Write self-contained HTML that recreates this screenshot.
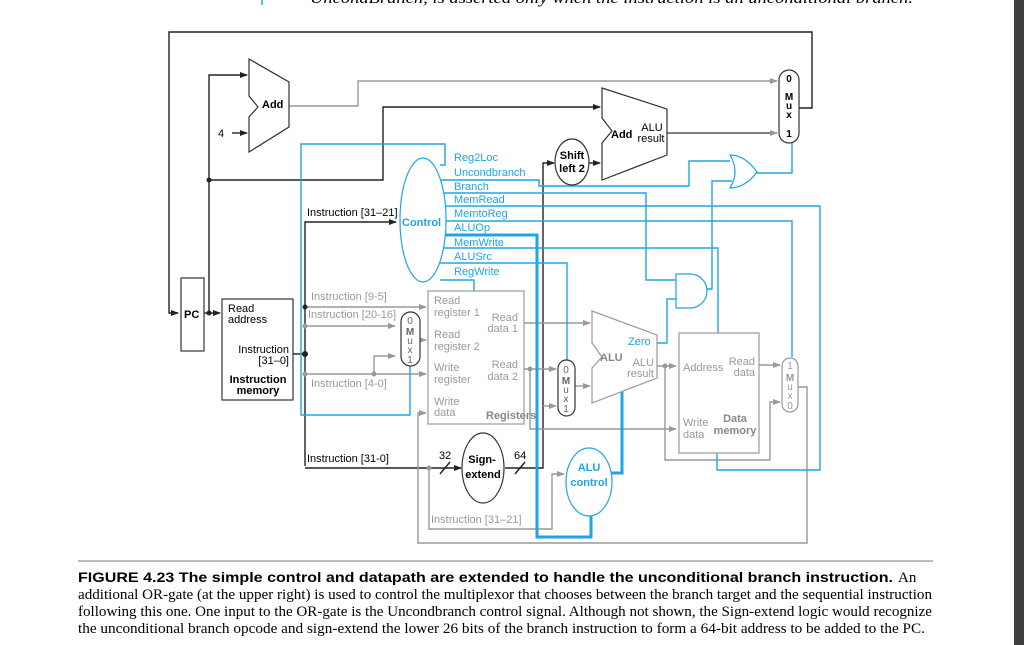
<!DOCTYPE html>
<html><head><meta charset="utf-8"><style>
html,body{margin:0;padding:0;background:#fff;}
svg{display:block;}
text{font-family:"Liberation Sans",sans-serif;}
.s{font-family:"Liberation Serif",serif;}
.bl{fill:#1ea5e6;}
.gr{fill:#9a9a9a;}
</style></head><body>
<svg width="1024" height="645" viewBox="0 0 1024 645" xmlns="http://www.w3.org/2000/svg">
<defs>
<marker id="ak" markerWidth="8" markerHeight="6" refX="7" refY="3" orient="auto" markerUnits="userSpaceOnUse"><path d="M0,0L8,3L0,6z" fill="#222"/></marker>
<marker id="ag" markerWidth="8" markerHeight="6" refX="7" refY="3" orient="auto" markerUnits="userSpaceOnUse"><path d="M0,0L8,3L0,6z" fill="#999"/></marker>
</defs>
<rect x="1014" y="0" width="10" height="645" fill="#3e3e3e"/>
<line x1="262" y1="0" x2="262" y2="5" stroke="#1ea5e6" stroke-width="1.5"/>
<text class="s" x="310" y="3" font-size="16" font-style="italic" textLength="603" lengthAdjust="spacingAndGlyphs">UncondBranch, is asserted only when the instruction is an unconditional branch.</text>

<g fill="none" stroke-width="1.4">
<g stroke="#222">
<polyline points="797,108 812,108 812,32 169,32 169,313 178,313" marker-end="url(#ak)"/>
<polyline points="204,313 220,313" marker-end="url(#ak)"/>
<polyline points="209,313 209,75 247,75" marker-end="url(#ak)"/>
<polyline points="209,180 383,180 383,107 600,107" marker-end="url(#ak)"/>
<polyline points="232,133 247,133" marker-end="url(#ak)"/>
<polyline points="293,354 305,354"/>
<polyline points="305,466 305,222 396,222" marker-end="url(#ak)"/>
<polyline points="305,468 461,468" marker-end="url(#ak)"/>
<polyline points="505,468 543,468 543,163 554,163" marker-end="url(#ak)"/>
<polyline points="589,163 600,163" marker-end="url(#ak)"/>
<polyline points="667,133 777,133" stroke="#555" marker-end="url(#ag)"/>
<line x1="440" y1="474" x2="450" y2="462"/>
<line x1="515" y1="474" x2="525" y2="462"/>
</g>
<g stroke="#999">
<polyline points="289,106 358,106 358,81 777,81" marker-end="url(#ag)"/>
<polyline points="305,307 426,307" marker-end="url(#ag)"/>
<polyline points="305,326 395,326" marker-end="url(#ag)"/>
<polyline points="305,374 426,374" marker-end="url(#ag)"/>
<polyline points="374,374 374,356 395,356" marker-end="url(#ag)"/>
<polyline points="414,340 426,340" marker-end="url(#ag)"/>
<polyline points="524,323 590,323" marker-end="url(#ag)"/>
<polyline points="524,369 556,369" marker-end="url(#ag)"/>
<polyline points="530,369 530,429 676,429" marker-end="url(#ag)"/>
<polyline points="543,406 556,406" marker-end="url(#ag)"/>
<polyline points="574,386 590,386" marker-end="url(#ag)"/>
<polyline points="657,366 676,366" marker-end="url(#ag)"/>
<polyline points="665,366 665,460 770,460 770,402 780,402" marker-end="url(#ag)"/>
<polyline points="759,365 780,365" marker-end="url(#ag)"/>
<polyline points="798,387 807,387 807,543 418,543 418,413 426,413" marker-end="url(#ag)"/>
<polyline points="429,468 429,529 552,529 552,474 564,474" marker-end="url(#ag)"/>
</g>
<g stroke="#1ea5e6">
<polyline points="440,165 445,165 445,144 301,144 301,415 410,415 410,366"/>
<polyline points="440,180 539,180 539,186 689,186 689,161 730,161"/>
<polyline points="440,193 646,193 646,280 676,280"/>
<polyline points="440,206 820,206 820,470 717,470 717,453"/>
<polyline points="440,221 792,221 792,357"/>
<polyline points="440,248 718,248 718,333"/>
<polyline points="440,263 567,263 567,360"/>
<polyline points="440,280 474,280 474,291"/>
<polyline points="757,173 792,173 792,143"/>
<polyline points="704,289 712,289 712,181 732,181"/>
<polyline points="653,343 667,343 667,299 676,299"/>
<polyline points="440,235 537,235 537,537 591,537 591,516" stroke-width="3"/>
<polyline points="611,473 622,473 622,390" stroke-width="3"/>
</g>
</g>
<g fill="#222"><circle cx="209" cy="313" r="2.5"/><circle cx="209" cy="180" r="2.5"/><circle cx="305" cy="354" r="3"/><circle cx="305" cy="307" r="2.5"/></g>
<g fill="#999"><circle cx="305" cy="326" r="2.5"/><circle cx="305" cy="374" r="2.5"/><circle cx="374" cy="374" r="2.5"/><circle cx="530" cy="369" r="2.5"/><circle cx="665" cy="366" r="2.5"/><circle cx="429" cy="468" r="2.5"/></g>

<g fill="#fff" stroke-width="1.2">
<rect x="181" y="278" width="23" height="73" stroke="#333"/>
<rect x="222" y="299" width="71" height="101" stroke="#333"/>
<rect x="428" y="291" width="96" height="133" stroke="#999"/>
<rect x="679" y="333" width="80" height="120" stroke="#999"/>
<polygon points="249,59 289,82 289,127 249,152 249,117 258,107 249,96" stroke="#333"/>
<polygon points="602,88 667,109 667,155 602,180 602,143 612,131 602,118" stroke="#333"/>
<polygon points="592,311 657,335 657,378 592,403 592,368 602,357 592,343" stroke="#999"/>
<rect x="779" y="70" width="20" height="73" rx="10" stroke="#333"/>
<rect x="401" y="312" width="19" height="54" rx="9.5" stroke="#333"/>
<rect x="558" y="360" width="17" height="56" rx="8.5" stroke="#333"/>
<rect x="782" y="358" width="16" height="54" rx="8" stroke="#999"/>
<ellipse cx="572" cy="162" rx="17" ry="23" stroke="#333"/>
<ellipse cx="483" cy="468" rx="21" ry="35" stroke="#333"/>
<ellipse cx="423" cy="220" rx="23" ry="62" stroke="#1ea5e6"/>
<ellipse cx="589" cy="482" rx="23" ry="34" stroke="#1ea5e6"/>
<path d="M730,155 Q745,155 757,172 Q745,188 730,188 Q740,172 730,155z" stroke="#1ea5e6"/>
<path d="M676,274 L690,274 A17,17 0 0 1 690,308 L676,308z" stroke="#1ea5e6"/>
</g>

<g font-size="11">
<text x="184" y="318" font-weight="bold">PC</text>
<text x="228" y="312">Read</text><text x="228" y="323">address</text>
<text x="289" y="353" text-anchor="end">Instruction</text><text x="289" y="364" text-anchor="end">[31–0]</text>
<text x="258" y="383" text-anchor="middle" font-weight="bold">Instruction</text><text x="258" y="394" text-anchor="middle" font-weight="bold">memory</text>
<text x="262" y="108" font-weight="bold">Add</text>
<text x="218" y="137">4</text>
<text x="611" y="138" font-weight="bold">Add</text>
<text x="652" y="131" text-anchor="middle">ALU</text><text x="651" y="142" text-anchor="middle">result</text>
<text x="572" y="159" text-anchor="middle" font-weight="bold">Shift</text><text x="572" y="172" text-anchor="middle" font-weight="bold">left 2</text>
<g font-weight="bold" text-anchor="middle" font-size="10"><text x="789" y="82">0</text><text x="789" y="100">M</text><text x="789" y="109">u</text><text x="789" y="118">x</text><text x="789" y="137">1</text></g>
<text x="307" y="216">Instruction [31–21]</text>
<text x="482" y="463" text-anchor="middle" font-weight="bold">Sign-</text><text x="483" y="478" text-anchor="middle" font-weight="bold">extend</text>
<text x="307" y="462">Instruction [31-0]</text>
<text x="439" y="459">32</text><text x="514" y="459">64</text>
<g class="bl">
<text x="402" y="226" font-weight="bold">Control</text>
<text x="454" y="161">Reg2Loc</text><text x="454" y="176">Uncondbranch</text><text x="454" y="190">Branch</text><text x="454" y="203">MemRead</text><text x="454" y="217">MemtoReg</text><text x="454" y="231">ALUOp</text><text x="454" y="246">MemWrite</text><text x="454" y="260">ALUSrc</text><text x="454" y="275">RegWrite</text>
<text x="628" y="345">Zero</text>
<text x="589" y="471" text-anchor="middle" font-weight="bold">ALU</text><text x="589" y="486" text-anchor="middle" font-weight="bold">control</text>
</g>
<g class="gr">
<text x="311" y="300">Instruction [9-5]</text>
<text x="308" y="318">Instruction [20-16]</text>
<text x="311" y="387">Instruction [4-0]</text>
<text x="431" y="523">Instruction [31–21]</text>
<text x="434" y="304">Read</text><text x="434" y="316">register 1</text>
<text x="518" y="321" text-anchor="end">Read</text><text x="518" y="332" text-anchor="end">data 1</text>
<text x="434" y="338">Read</text><text x="434" y="350">register 2</text>
<text x="434" y="371">Write</text><text x="434" y="383">register</text>
<text x="518" y="368" text-anchor="end">Read</text><text x="518" y="380" text-anchor="end">data 2</text>
<text x="434" y="405">Write</text><text x="434" y="416">data</text>
<text x="486" y="419" font-weight="bold" fill="#888">Registers</text>
<text x="600" y="361" font-weight="bold" fill="#888">ALU</text>
<text x="654" y="366" text-anchor="end">ALU</text><text x="654" y="377" text-anchor="end">result</text>
<text x="683" y="371">Address</text>
<text x="755" y="365" text-anchor="end">Read</text><text x="755" y="376" text-anchor="end">data</text>
<text x="683" y="426">Write</text><text x="683" y="438">data</text>
<text x="735" y="422" text-anchor="middle" font-weight="bold" fill="#888">Data</text><text x="735" y="434" text-anchor="middle" font-weight="bold" fill="#888">memory</text>
</g>
<g text-anchor="middle" font-size="10">
<text x="410" y="324" fill="#666">0</text><text x="410" y="335" fill="#666" font-weight="bold">M</text><text x="410" y="344" fill="#666">u</text><text x="410" y="353" fill="#666">x</text><text x="410" y="363" fill="#666">1</text>
<text x="566" y="373" fill="#666">0</text><text x="566" y="384" fill="#666" font-weight="bold">M</text><text x="566" y="393" fill="#666">u</text><text x="566" y="402" fill="#666">x</text><text x="566" y="412" fill="#666">1</text>
<text x="790" y="369" fill="#999">1</text><text x="790" y="381" fill="#999" font-weight="bold">M</text><text x="790" y="390" fill="#999">u</text><text x="790" y="399" fill="#999">x</text><text x="790" y="409" fill="#999">0</text>
</g>
</g>

<line x1="78" y1="561" x2="933" y2="561" stroke="#777" stroke-width="1"/>
<text x="78" y="582" font-size="14" font-weight="bold" textLength="815" lengthAdjust="spacingAndGlyphs">FIGURE 4.23  The simple control and datapath are extended to handle the unconditional branch instruction.</text>
<text class="s" x="898" y="582" font-size="15">An</text>
<text class="s" x="78" y="599" font-size="15" textLength="854" lengthAdjust="spacingAndGlyphs">additional OR-gate (at the upper right) is used to control the multiplexor that chooses between the branch target and the sequential instruction</text>
<text class="s" x="78" y="616" font-size="15" textLength="854" lengthAdjust="spacingAndGlyphs">following this one. One input to the OR-gate is the Uncondbranch control signal. Although not shown, the Sign-extend logic would recognize</text>
<text class="s" x="78" y="633" font-size="15" textLength="847" lengthAdjust="spacingAndGlyphs">the unconditional branch opcode and sign-extend the lower 26 bits of the branch instruction to form a 64-bit address to be added to the PC.</text>
</svg>
</body></html>
